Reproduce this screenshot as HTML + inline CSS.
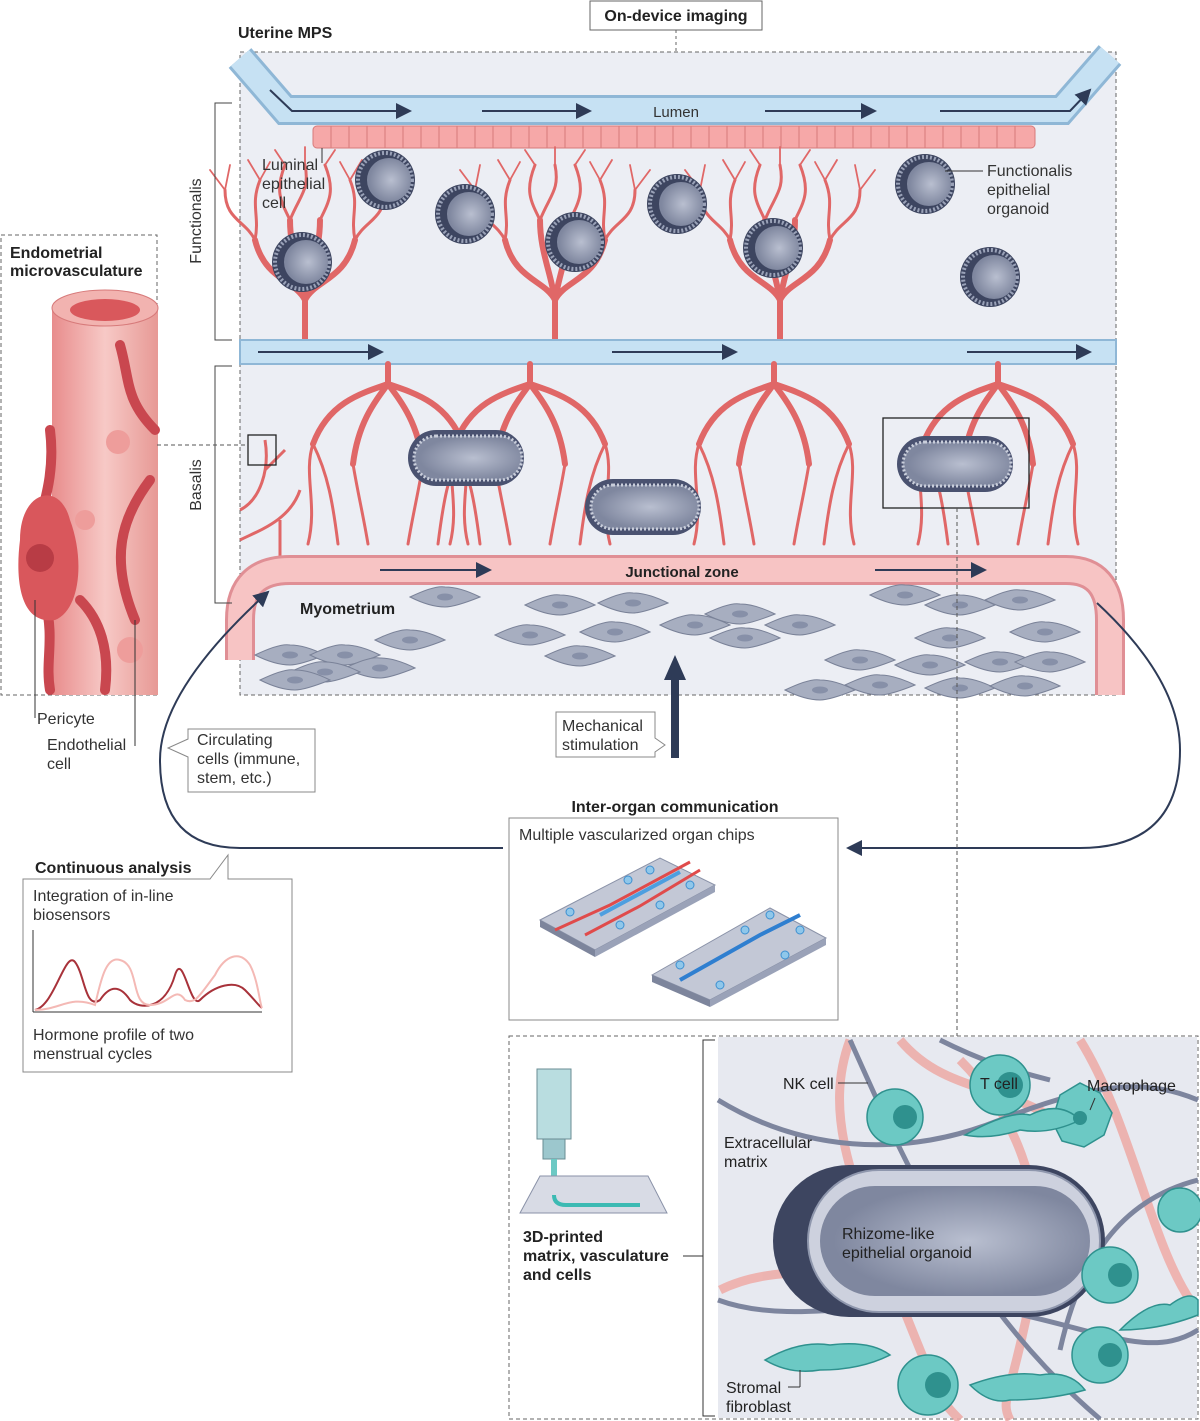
<!DOCTYPE html>
<html><head><meta charset="utf-8"><style>
html,body{margin:0;padding:0;background:#fff;}
svg{display:block;font-family:"Liberation Sans",sans-serif;}
</style></head><body>
<svg width="1200" height="1421" viewBox="0 0 1200 1421" xmlns="http://www.w3.org/2000/svg">
<defs>
<radialGradient id="org" cx="0.55" cy="0.5" r="0.5"><stop offset="0" stop-color="#b9bfd0"/><stop offset="1" stop-color="#7f879f"/></radialGradient>
<linearGradient id="ves" x1="0" x2="1"><stop offset="0" stop-color="#e88c8c"/><stop offset="0.5" stop-color="#f7c9c6"/><stop offset="1" stop-color="#e79995"/></linearGradient>
<marker id="ah" markerWidth="8" markerHeight="8" refX="7" refY="4" orient="auto"><path d="M0,0 L8,4 L0,8 Z" fill="#2e3b57"/></marker>
<g id="orgn"><circle r="30" fill="#3d4560"/><circle r="27" fill="none" stroke="#9aa2b8" stroke-width="4" stroke-dasharray="2 2"/><circle cx="4" r="22" fill="url(#org)"/></g>
<g id="cap"><rect x="-58" y="-28" width="116" height="56" rx="28" fill="#4a5270"/><rect x="-52" y="-22" width="108" height="44" rx="22" fill="url(#org)" stroke="#c9cedb" stroke-width="3" stroke-dasharray="2 2"/></g>
<g id="tree" fill="none" stroke="#e06767" stroke-linecap="round">
<path d="M0,0 V-40 M0,-40 C-10,-60 -40,-60 -50,-100 M0,-40 C10,-60 40,-60 50,-100 M0,-40 C-5,-70 -15,-90 -15,-120 M0,-40 C5,-70 15,-90 15,-120" stroke-width="6"/>
<path d="M-50,-100 C-60,-120 -80,-120 -80,-150 M-50,-100 C-45,-125 -55,-135 -45,-160 M50,-100 C60,-120 80,-120 80,-150 M50,-100 C45,-125 55,-135 45,-160 M-15,-120 C-25,-140 -30,-150 -20,-175 M15,-120 C25,-140 30,-150 20,-175 M-15,-120 C-5,-145 5,-150 0,-175" stroke-width="3"/>
<path d="M-80,-150 l-15,-20 M-80,-150 l5,-25 M-45,-160 l-12,-20 M-45,-160 l10,-18 M80,-150 l15,-20 M80,-150 l-5,-25 M45,-160 l12,-20 M45,-160 l-10,-18 M-20,-175 l-10,-15 M20,-175 l10,-15 M0,-175 l0,-18" stroke-width="1.8"/>
</g>
<g id="dtree" fill="none" stroke="#e06767" stroke-linecap="round">
<path d="M0,0 V20 M0,20 C-30,30 -60,40 -75,80 M0,20 C30,30 60,40 75,80 M0,20 C-15,40 -30,60 -35,100 M0,20 C15,40 30,60 35,100" stroke-width="6"/>
<path d="M-75,80 C-85,110 -70,140 -80,180 M-75,80 C-60,110 -55,140 -50,180 M75,80 C85,110 70,140 80,180 M75,80 C60,110 55,140 50,180 M-35,100 C-30,130 -25,150 -20,180 M35,100 C30,130 25,150 20,180" stroke-width="3"/>
</g>
<g id="smc"><path d="M-35,0 Q-10,-12 0,-10 Q15,-10 35,0 Q10,10 0,10 Q-15,10 -35,0Z" fill="#a7aec0" stroke="#7a8298"/><ellipse rx="8" ry="3.5" fill="#8790a8"/></g>
</defs>

<!-- Main MPS box -->
<rect x="240" y="52" width="876" height="643" fill="#eceef4" stroke="#666" stroke-dasharray="4 3"/>
<text x="238" y="38" font-size="16" font-weight="bold" fill="#222">Uterine MPS</text>
<rect x="590" y="1" width="172" height="29" fill="#fff" stroke="#666"/>
<text x="676" y="21" font-size="16" font-weight="bold" text-anchor="middle" fill="#222">On-device imaging</text>
<line x1="676" y1="30" x2="676" y2="52" stroke="#666" stroke-dasharray="3 3"/>

<!-- lumen -->
<path d="M240,58 L285,110 L1062,110 L1110,55" fill="none" stroke="#8fb7d6" stroke-width="30"/>
<path d="M240,58 L285,110 L1062,110 L1110,55" fill="none" stroke="#c6e1f3" stroke-width="24"/>
<path d="M270,90 L292,111 L410,111" fill="none" stroke="#2e3b57" stroke-width="2" marker-end="url(#ah)"/>
<line x1="482" y1="111" x2="590" y2="111" stroke="#2e3b57" stroke-width="2" marker-end="url(#ah)"/>
<line x1="765" y1="111" x2="875" y2="111" stroke="#2e3b57" stroke-width="2" marker-end="url(#ah)"/>
<path d="M940,111 L1070,111 L1090,90" fill="none" stroke="#2e3b57" stroke-width="2" marker-end="url(#ah)"/>
<text x="676" y="117" font-size="15" text-anchor="middle" fill="#333">Lumen</text>
<!-- epithelium -->
<rect x="313" y="126" width="722" height="22" rx="4" fill="#f6a8a8" stroke="#d77a7a"/>
<g stroke="#d77a7a"><path d="M331,126v22M349,126v22M367,126v22M385,126v22M403,126v22M421,126v22M439,126v22M457,126v22M475,126v22M493,126v22M511,126v22M529,126v22M547,126v22M565,126v22M583,126v22M601,126v22M619,126v22M637,126v22M655,126v22M673,126v22M691,126v22M709,126v22M727,126v22M745,126v22M763,126v22M781,126v22M799,126v22M817,126v22M835,126v22M853,126v22M871,126v22M889,126v22M907,126v22M925,126v22M943,126v22M961,126v22M979,126v22M997,126v22M1015,126v22"/></g>

<!-- functionalis trees -->
<use href="#tree" x="305" y="340"/>
<use href="#tree" x="555" y="340"/>
<use href="#tree" x="780" y="340"/>
<!-- organoids -->
<use href="#orgn" x="385" y="180"/><use href="#orgn" x="465" y="214"/><use href="#orgn" x="677" y="204"/>
<use href="#orgn" x="302" y="262"/><use href="#orgn" x="575" y="242"/><use href="#orgn" x="773" y="248"/>
<use href="#orgn" x="925" y="184"/><use href="#orgn" x="990" y="277"/>
<text font-size="16" fill="#333"><tspan x="262" y="170">Luminal</tspan><tspan x="262" y="189">epithelial</tspan><tspan x="262" y="208">cell</tspan></text>
<line x1="322" y1="163" x2="322" y2="148" stroke="#333"/>
<text font-size="16" fill="#333"><tspan x="987" y="176">Functionalis</tspan><tspan x="987" y="195">epithelial</tspan><tspan x="987" y="214">organoid</tspan></text>
<line x1="945" y1="171" x2="983" y2="171" stroke="#333"/>

<!-- middle channel -->
<rect x="240" y="340" width="876" height="24" fill="#c6e1f3" stroke="#8fb7d6" stroke-width="2"/>
<g stroke="#2e3b57" stroke-width="2" marker-end="url(#ah)"><line x1="258" y1="352" x2="382" y2="352"/><line x1="612" y1="352" x2="736" y2="352"/><line x1="967" y1="352" x2="1090" y2="352"/></g>

<!-- basalis trees -->
<use href="#dtree" x="388" y="364"/><use href="#dtree" x="530" y="364"/><use href="#dtree" x="774" y="364"/><use href="#dtree" x="998" y="364"/>
<path d="M240,510 C260,500 270,470 265,440 M265,470 l20,-20 M240,540 C260,530 290,520 300,490 M280,560 V520" fill="none" stroke="#e06767" stroke-width="3"/>
<use href="#cap" x="466" y="458"/><use href="#cap" x="643" y="507"/><use href="#cap" x="955" y="464"/>
<rect x="883" y="418" width="146" height="90" fill="none" stroke="#222" stroke-width="1.3"/>
<rect x="248" y="435" width="28" height="30" fill="none" stroke="#222" stroke-width="1.3"/>

<!-- junctional zone -->
<path d="M240,660 L240,620 Q240,570 290,570 L1066,570 Q1110,570 1110,620 L1110,695" fill="none" stroke="#e08f95" stroke-width="30"/>
<path d="M240,660 L240,620 Q240,570 290,570 L1066,570 Q1110,570 1110,620 L1110,695" fill="none" stroke="#f7c4c4" stroke-width="24"/>
<text x="682" y="577" font-size="15" font-weight="bold" text-anchor="middle" fill="#222">Junctional zone</text>
<g stroke="#2e3b57" stroke-width="2" marker-end="url(#ah)"><line x1="380" y1="570" x2="490" y2="570"/><line x1="875" y1="570" x2="985" y2="570"/></g>
<text x="300" y="614" font-size="16" font-weight="bold" fill="#222">Myometrium</text>
<!-- smooth muscle cells -->
<g>
<use href="#smc" x="445" y="597"/><use href="#smc" x="560" y="605"/><use href="#smc" x="633" y="603"/><use href="#smc" x="530" y="635"/><use href="#smc" x="615" y="632"/><use href="#smc" x="695" y="625"/><use href="#smc" x="740" y="614"/><use href="#smc" x="800" y="625"/><use href="#smc" x="745" y="638"/>
<use href="#smc" x="580" y="656"/><use href="#smc" x="410" y="640"/><use href="#smc" x="290" y="655"/><use href="#smc" x="345" y="655"/><use href="#smc" x="380" y="668"/><use href="#smc" x="325" y="672"/><use href="#smc" x="295" y="680"/>
<use href="#smc" x="905" y="595"/><use href="#smc" x="960" y="605"/><use href="#smc" x="1020" y="600"/><use href="#smc" x="1045" y="632"/><use href="#smc" x="950" y="638"/><use href="#smc" x="860" y="660"/><use href="#smc" x="930" y="665"/><use href="#smc" x="1000" y="662"/><use href="#smc" x="1050" y="662"/><use href="#smc" x="880" y="685"/><use href="#smc" x="960" y="688"/><use href="#smc" x="1025" y="686"/><use href="#smc" x="820" y="690"/>
</g>

<!-- brackets -->
<path d="M232,103 H215 V340 H232 M232,366 H215 V603 H232" fill="none" stroke="#444"/>
<text transform="translate(201,221) rotate(-90)" font-size="16" text-anchor="middle" fill="#333">Functionalis</text>
<text transform="translate(201,485) rotate(-90)" font-size="16" text-anchor="middle" fill="#333">Basalis</text>

<!-- left microvasculature box -->
<rect x="1" y="235" width="156" height="460" fill="#fff" stroke="#666" stroke-dasharray="4 3"/>
<text font-size="16" font-weight="bold" fill="#222"><tspan x="10" y="258">Endometrial</tspan><tspan x="10" y="276">microvasculature</tspan></text>
<rect x="52" y="308" width="106" height="387" fill="url(#ves)"/>
<ellipse cx="105" cy="308" rx="53" ry="18" fill="#f2b3b0" stroke="#d77a7a"/>
<ellipse cx="105" cy="310" rx="35" ry="11" fill="#d9585c"/>
<g fill="none" stroke="#c9474f" stroke-width="10" stroke-linecap="round"><path d="M120,345 C130,380 125,400 155,430"/><path d="M150,480 C120,520 110,560 135,620"/><path d="M50,430 C55,470 45,500 40,520"/><path d="M45,600 C55,640 45,660 50,690"/><path d="M80,600 C100,620 110,650 105,690"/></g>
<path d="M20,540 C20,490 60,480 70,520 C85,560 80,610 55,620 C20,625 15,580 20,540Z" fill="#d9575c"/>
<circle cx="40" cy="558" r="14" fill="#b83c45"/>
<circle cx="118" cy="442" r="12" fill="#ee9d9b"/><circle cx="130" cy="650" r="13" fill="#ee9d9b"/><circle cx="85" cy="520" r="10" fill="#ee9d9b"/>
<line x1="157" y1="445" x2="248" y2="445" stroke="#555" stroke-dasharray="4 3"/>
<line x1="35" y1="600" x2="35" y2="718" stroke="#333"/><text x="37" y="724" font-size="16" fill="#333">Pericyte</text>
<line x1="135" y1="620" x2="135" y2="746" stroke="#333"/>
<text font-size="16" fill="#333"><tspan x="47" y="750">Endothelial</tspan><tspan x="47" y="769">cell</tspan></text>

<!-- circulating loop -->
<path d="M503,848 L240,848 Q160,848 160,760 Q160,690 268,592" fill="none" stroke="#2e3b57" stroke-width="2" marker-end="url(#ah)"/>
<path d="M1097,603 Q1180,680 1180,750 Q1180,848 1080,848 L848,848" fill="none" stroke="#2e3b57" stroke-width="2" marker-end="url(#ah)"/>
<path d="M188,729 H315 V792 H188 V757 L168,748 L188,739 Z" fill="#fff" stroke="#888"/>
<text font-size="16" fill="#333"><tspan x="197" y="745">Circulating</tspan><tspan x="197" y="764">cells (immune,</tspan><tspan x="197" y="783">stem, etc.)</tspan></text>

<!-- mechanical -->
<path d="M556,712 H655 V738 L665,745 L655,752 V757 H556 Z" fill="#fff" stroke="#888"/>
<text font-size="16" fill="#333"><tspan x="562" y="731">Mechanical</tspan><tspan x="562" y="750">stimulation</tspan></text>
<path d="M671,758 V680 H664 L675,655 L686,680 H679 V758Z" fill="#2e3b57"/>

<!-- inter-organ -->
<text x="675" y="812" font-size="16" font-weight="bold" text-anchor="middle" fill="#222">Inter-organ communication</text>
<rect x="509" y="818" width="329" height="202" fill="#fff" stroke="#888"/>
<text x="519" y="840" font-size="16" fill="#333">Multiple vascularized organ chips</text>
<polygon points="540,920 660,858 715,885 595,950" fill="#c3c8d6" stroke="#8a92a8"/>
<polygon points="540,920 595,950 595,957 540,927" fill="#7d859c"/>
<polygon points="595,950 715,885 715,892 595,957" fill="#9aa2b8"/>
<path d="M555,930 L610,905 L690,862 M585,935 L640,906 L700,870" stroke="#e04b4b" stroke-width="3" fill="none"/>
<path d="M600,915 L680,872" stroke="#4d9fe0" stroke-width="4"/>
<g fill="#8fc7ea" stroke="#3d8fd0"><circle cx="570" cy="912" r="4"/><circle cx="620" cy="925" r="4"/><circle cx="660" cy="905" r="4"/><circle cx="628" cy="880" r="4"/><circle cx="690" cy="885" r="4"/><circle cx="650" cy="870" r="4"/></g>
<polygon points="652,975 770,908 826,938 710,1000" fill="#c3c8d6" stroke="#8a92a8"/>
<polygon points="652,975 710,1000 710,1007 652,982" fill="#7d859c"/>
<polygon points="710,1000 826,938 826,945 710,1007" fill="#9aa2b8"/>
<path d="M680,980 L760,935 L800,915" stroke="#2f7fd0" stroke-width="4" fill="none"/>
<g fill="#8fc7ea" stroke="#3d8fd0"><circle cx="680" cy="965" r="4"/><circle cx="720" cy="985" r="4"/><circle cx="745" cy="930" r="4"/><circle cx="785" cy="955" r="4"/><circle cx="800" cy="930" r="4"/><circle cx="770" cy="915" r="4"/></g>

<!-- continuous analysis -->
<text x="35" y="873" font-size="16" font-weight="bold" fill="#222">Continuous analysis</text>
<path d="M23,879 H210 L228,855 L228,879 H292 V1072 H23 Z" fill="#fff" stroke="#888"/>
<text font-size="16" fill="#333"><tspan x="33" y="901">Integration of in-line</tspan><tspan x="33" y="920">biosensors</tspan></text>
<line x1="33" y1="930" x2="33" y2="1012" stroke="#333"/><line x1="33" y1="1012" x2="262" y2="1012" stroke="#333"/>
<path d="M35,1010 C55,1005 65,950 75,962 C85,975 85,1010 100,1000 C110,985 120,985 130,1000 C140,1010 165,1010 175,975 C183,950 190,1010 200,1000 C215,985 235,980 245,990 C255,1000 258,1005 262,1008" fill="none" stroke="#a8323a" stroke-width="2"/>
<path d="M35,1010 C60,1010 70,995 95,1005 C100,985 105,955 120,960 C140,965 130,1005 150,1005 C170,1005 175,985 185,1000 C195,1005 200,995 215,975 C225,955 240,950 250,965 C258,980 260,1005 262,1008" fill="none" stroke="#f4b9b5" stroke-width="2"/>
<text font-size="16" fill="#333"><tspan x="33" y="1040">Hormone profile of two</tspan><tspan x="33" y="1059">menstrual cycles</tspan></text>

<!-- bottom panel -->
<line x1="957" y1="508" x2="957" y2="1036" stroke="#555" stroke-dasharray="4 3"/>
<rect x="509" y="1036" width="689" height="383" fill="#fff" stroke="#666" stroke-dasharray="4 3"/>
<rect x="718" y="1037" width="479" height="381" fill="#e7e9f0"/>
<g fill="none" stroke="#eeaaa6" stroke-width="9" opacity="0.85"><path d="M850,1040 C820,1120 860,1200 900,1300 S940,1400 960,1420"/><path d="M960,1060 C1020,1120 1050,1200 1030,1300 S1000,1400 1010,1420"/><path d="M1080,1040 C1130,1120 1150,1240 1190,1300"/><path d="M720,1290 C800,1250 900,1300 960,1240"/><path d="M900,1040 C950,1100 1020,1080 1080,1140"/></g>
<g fill="none" stroke="#7d859e" stroke-width="5"><path d="M718,1100 C800,1150 900,1160 1000,1120 S1150,1080 1198,1100"/><path d="M718,1300 C800,1330 900,1290 1000,1310 S1150,1360 1198,1330"/><path d="M850,1040 C900,1150 960,1300 1100,1419"/><path d="M1198,1180 C1120,1200 1080,1260 1060,1350"/><path d="M940,1040 C980,1060 1010,1070 1050,1080"/></g>
<rect x="773" y="1165" width="332" height="152" rx="76" fill="#3d4560"/>
<rect x="808" y="1170" width="292" height="142" rx="71" fill="#cdd1de" stroke="#8f97ad" stroke-width="2"/>
<rect x="820" y="1186" width="270" height="110" rx="55" fill="url(#org)"/>
<text font-size="16" fill="#222"><tspan x="842" y="1239">Rhizome-like</tspan><tspan x="842" y="1258">epithelial organoid</tspan></text>
<g fill="#6cc9c4" stroke="#2f918e" stroke-width="1.5">
<circle cx="895" cy="1117" r="28"/><circle cx="1000" cy="1085" r="30"/><circle cx="1110" cy="1275" r="28"/><circle cx="1180" cy="1210" r="22"/><circle cx="1100" cy="1355" r="28"/><circle cx="928" cy="1385" r="30"/>
<path d="M1060,1095 l20,-12 20,10 12,20 -8,22 -20,12 -22,-6 -10,-20Z"/>
<path d="M965,1135 Q1010,1110 1030,1115 Q1060,1100 1080,1120 Q1050,1135 1020,1130 Q990,1140 965,1135Z"/>
<path d="M765,1360 Q800,1340 830,1345 Q870,1340 890,1355 Q860,1370 820,1370 Q790,1375 765,1360Z"/>
<path d="M970,1385 Q1010,1370 1040,1375 Q1070,1370 1085,1390 Q1050,1400 1010,1400 Q990,1405 970,1385Z"/>
<path d="M1120,1330 Q1150,1300 1170,1305 Q1190,1290 1198,1300 L1198,1315 Q1160,1330 1120,1330Z"/>
</g>
<g fill="#2f918e"><circle cx="905" cy="1117" r="12"/><circle cx="1010" cy="1085" r="13"/><circle cx="1120" cy="1275" r="12"/><circle cx="1110" cy="1355" r="12"/><circle cx="938" cy="1385" r="13"/><circle cx="1080" cy="1118" r="7"/></g>
<text font-size="16" fill="#222"><tspan x="783" y="1089">NK cell</tspan></text>
<line x1="838" y1="1083" x2="868" y2="1083" stroke="#333"/>
<text x="980" y="1089" font-size="16" fill="#222">T cell</text>
<text x="1087" y="1091" font-size="16" fill="#222">Macrophage</text>
<line x1="1095" y1="1098" x2="1090" y2="1110" stroke="#333"/>
<text font-size="16" fill="#222"><tspan x="724" y="1148">Extracellular</tspan><tspan x="724" y="1167">matrix</tspan></text>
<text font-size="16" fill="#222"><tspan x="726" y="1393">Stromal</tspan><tspan x="726" y="1412">fibroblast</tspan></text>
<line x1="788" y1="1387" x2="800" y2="1387" stroke="#333"/><line x1="800" y1="1387" x2="800" y2="1370" stroke="#333"/>
<!-- printer -->
<rect x="537" y="1069" width="34" height="70" fill="#b9dde0" stroke="#6a8c93"/>
<rect x="543" y="1139" width="22" height="20" fill="#9cc7cd" stroke="#6a8c93"/>
<rect x="551" y="1159" width="6" height="40" fill="#6cc9c4"/>
<polygon points="520,1213 540,1176 648,1176 667,1213" fill="#d8dbe5" stroke="#8a92a8"/>
<path d="M554,1195 Q554,1205 566,1205 L640,1205" stroke="#3cbab3" stroke-width="4" fill="none"/>
<text font-size="16" font-weight="bold" fill="#222"><tspan x="523" y="1242">3D-printed</tspan><tspan x="523" y="1261">matrix, vasculature</tspan><tspan x="523" y="1280">and cells</tspan></text>
<line x1="683" y1="1256" x2="703" y2="1256" stroke="#333"/>
<path d="M715,1040 H703 V1416 H715" fill="none" stroke="#333"/>
</svg>
</body></html>
